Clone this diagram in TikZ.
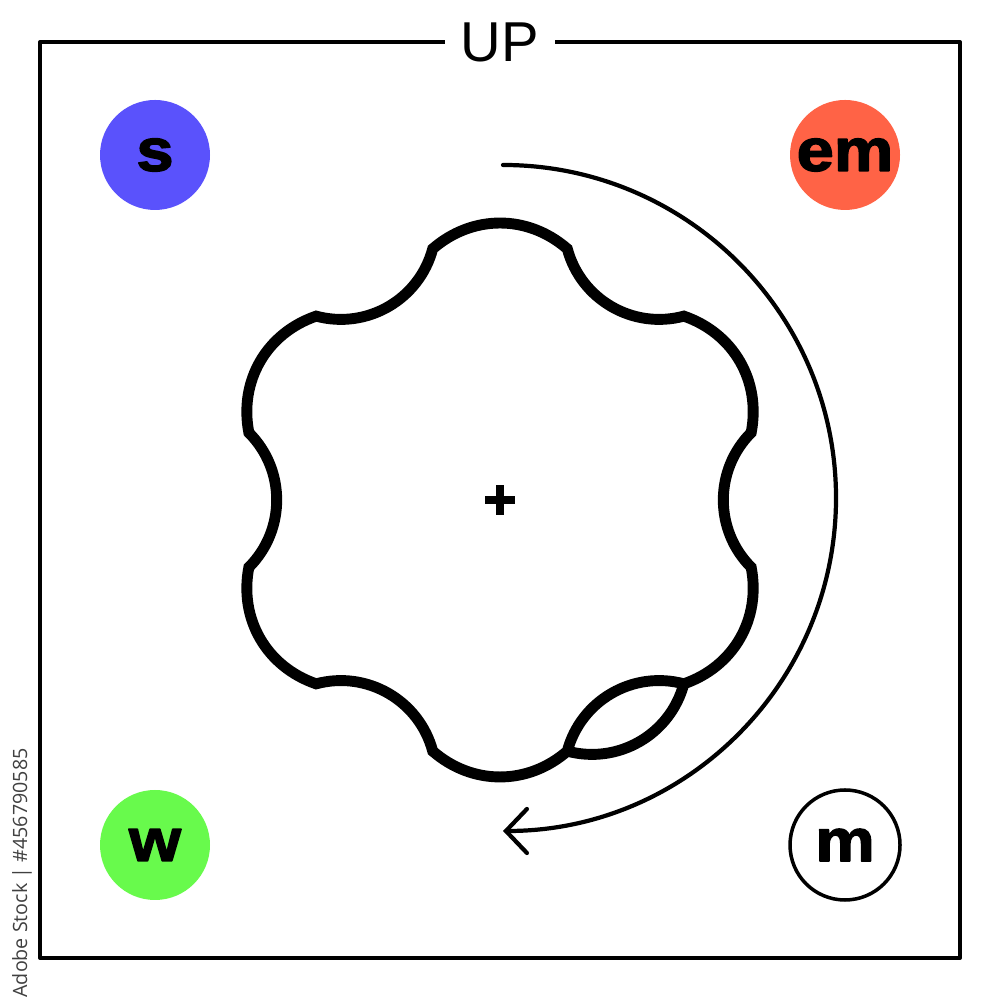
\documentclass[tikz,border=0pt]{standalone}
\usepackage{fontspec}
\setmainfont{Liberation Sans}
\newfontfamily\heavyfont[FakeBold=2.5,FakeStretch=1.12]{Liberation Sans Bold}
\newfontfamily\stockfont{Open Sans}
\usetikzlibrary{arrows.meta}
\definecolor{sblue}{RGB}{90,82,252}
\definecolor{emorange}{RGB}{255,99,70}
\definecolor{wgreen}{RGB}{104,250,76}
\tikzset{
  dot/.style={circle, minimum size=11mm, inner sep=0pt, font=\heavyfont\fontsize{17}{17}\selectfont},
}
\begin{document}
\begin{tikzpicture}[line cap=round, line join=round]
        \useasboundingbox (0,0) rectangle (10,10);
        \draw[line width=1.15pt] (0.4,0.42) rectangle (9.6,9.58);
        \node[fill=white, inner xsep=1.6mm, font=\fontsize{16}{16}\selectfont] (up) at (5,9.58) {UP};
        \node[dot, fill=sblue] (s) at (1.55,8.45) {s};
        \node[dot, fill=emorange] (em) at (8.45,8.45) {em};
        \node[dot, fill=wgreen] (w) at (1.55,1.55) {w};
        \node[dot, draw, line width=1pt] (m) at (8.45,1.55) {m};
        \begin{scope}[shift={(5,5)}, line width=3.1pt, line cap=butt, line join=miter]
          \draw (15:2.6) to[bend right=41] (45:2.6) to[bend left=45] (75:2.6)
            to[bend right=41] (105:2.6) to[bend left=45] (135:2.6)
            to[bend right=41] (165:2.6) to[bend left=45] (195:2.6)
            to[bend right=41] (225:2.6) to[bend left=45] (255:2.6)
            to[bend right=41] (285:2.6) to[bend left=45] (315:2.6)
            to[bend right=41] (345:2.6) to[bend left=45] cycle;
          \draw (285:2.6) to[bend right=45] (315:2.6);
          \draw[line width=2.3pt] (-0.15,0) -- (0.15,0) (0,-0.15) -- (0,0.15);
        \end{scope}
        \draw[line width=1.2pt, -{Straight Barb[length=2.1mm, width=4.4mm, line cap=round]}]
          (5.03,8.35) arc[start angle=90, end angle=-90, radius=3.33];
        \node[rotate=90, text=black!75, font=\stockfont\fontsize{5.6}{6}\selectfont] (stock) at (0.22,1.27) {Adobe Stock | \#456790585};
      \end{tikzpicture}
\end{document}
